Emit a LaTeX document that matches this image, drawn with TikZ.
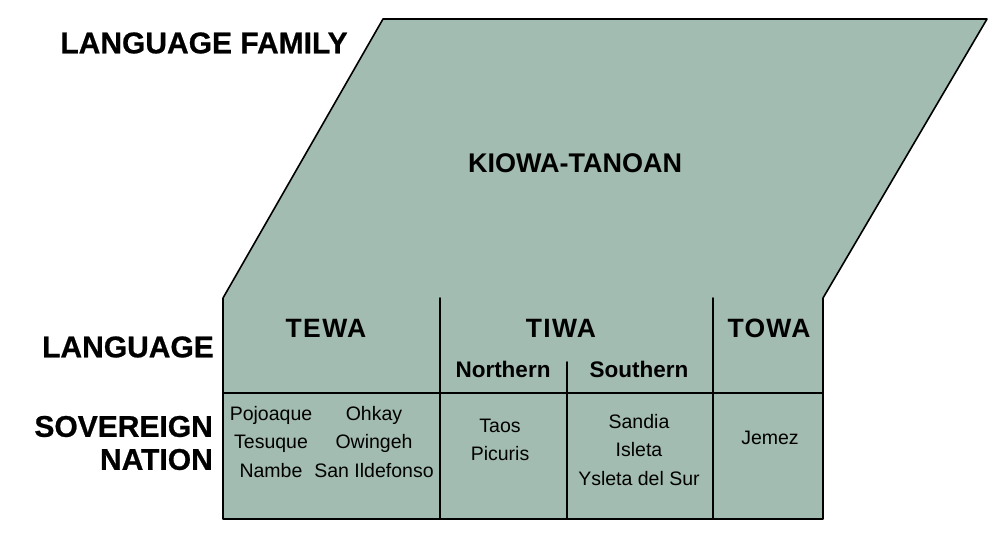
\documentclass[tikz,border=0pt]{standalone}
\usepackage{fontspec}
\setmainfont{Liberation Sans}
\newfontfamily\heavyfont[FakeBold=0.7]{Liberation Sans Bold}
\newfontfamily\spacedfont[LetterSpace=5]{Liberation Sans Bold}
\usetikzlibrary{positioning}
\definecolor{sage}{HTML}{A2BCB1}

\tikzset{
  rowlabel/.style={font=\heavyfont\fontsize{30}{33}\selectfont, align=right, inner sep=0pt},
  family/.style={font=\bfseries\fontsize{27}{30}\selectfont, inner sep=0pt},
  lang/.style={font=\spacedfont\fontsize{26.5}{28}\selectfont, inner sep=0pt},
  dialect/.style={font=\bfseries\fontsize{22.5}{24}\selectfont, inner sep=0pt},
  nation/.style={font=\fontsize{19.5}{28.5}\selectfont, align=center, inner sep=0pt},
  grid/.style={line width=1.6pt, line cap=round, line join=round}
}

\begin{document}
\begin{tikzpicture}[x=1pt, y=-1pt]
  \useasboundingbox (0,0) rectangle (1000,533);

  % outline of the chart
  \coordinate (tl) at (383,19);
  \coordinate (tr) at (987,19);
  \coordinate (ml) at (223,298);
  \coordinate (mr) at (823,298);
  \coordinate (bl) at (223,519);
  \coordinate (br) at (823,519);
  \filldraw[grid, fill=sage] (tl) -- (tr) -- (mr) -- (br) -- (bl) -- (ml) -- cycle;

  % inner rules
  \coordinate (rowl) at (223,393);
  \coordinate (rowr) at (823,393);
  \coordinate (tiwatop) at (440,298);
  \coordinate (tiwabot) at (440,519);
  \coordinate (towatop) at (713,298);
  \coordinate (towabot) at (713,519);
  \coordinate (splittop) at (567,362);
  \coordinate (splitbot) at (567,519);
  \draw[grid] (rowl) -- (rowr);
  \draw[grid] (tiwatop) -- (tiwabot);
  \draw[grid] (towatop) -- (towabot);
  \draw[grid] (splittop) -- (splitbot);

  % row labels
  \node[rowlabel] (famlabel) at (204,43) {LANGUAGE FAMILY};
  \node[rowlabel, anchor=east] (langlabel) at (214,347) {LANGUAGE};
  \node[rowlabel, anchor=east] (nationlabel) at (213,443) {SOVEREIGN\\NATION};

  % family and languages
  \node[family] (kiowa) at (575,163) {KIOWA-TANOAN};
  \node[lang] (tewa) at (326,328) {TEWA};
  \node[lang] (tiwa) at (561,328) {TIWA};
  \node[lang] (towa) at (769,328) {TOWA};
  \node[dialect] (north) at (503,369) {Northern};
  \node[dialect] (south) at (639,369) {Southern};

  % nations
  \node[nation] (tewaA) at (271,442) {Pojoaque\\Tesuque\\Nambe};
  \node[nation] (tewaB) at (374,442) {Ohkay\\Owingeh\\San Ildefonso};
  \node[nation] (northN) at (500,440) {Taos\\Picuris};
  \node[nation] (southN) at (639,450) {Sandia\\Isleta\\Ysleta del Sur};
  \node[nation] (towaN) at (770,438) {Jemez};
\end{tikzpicture}
\end{document}
